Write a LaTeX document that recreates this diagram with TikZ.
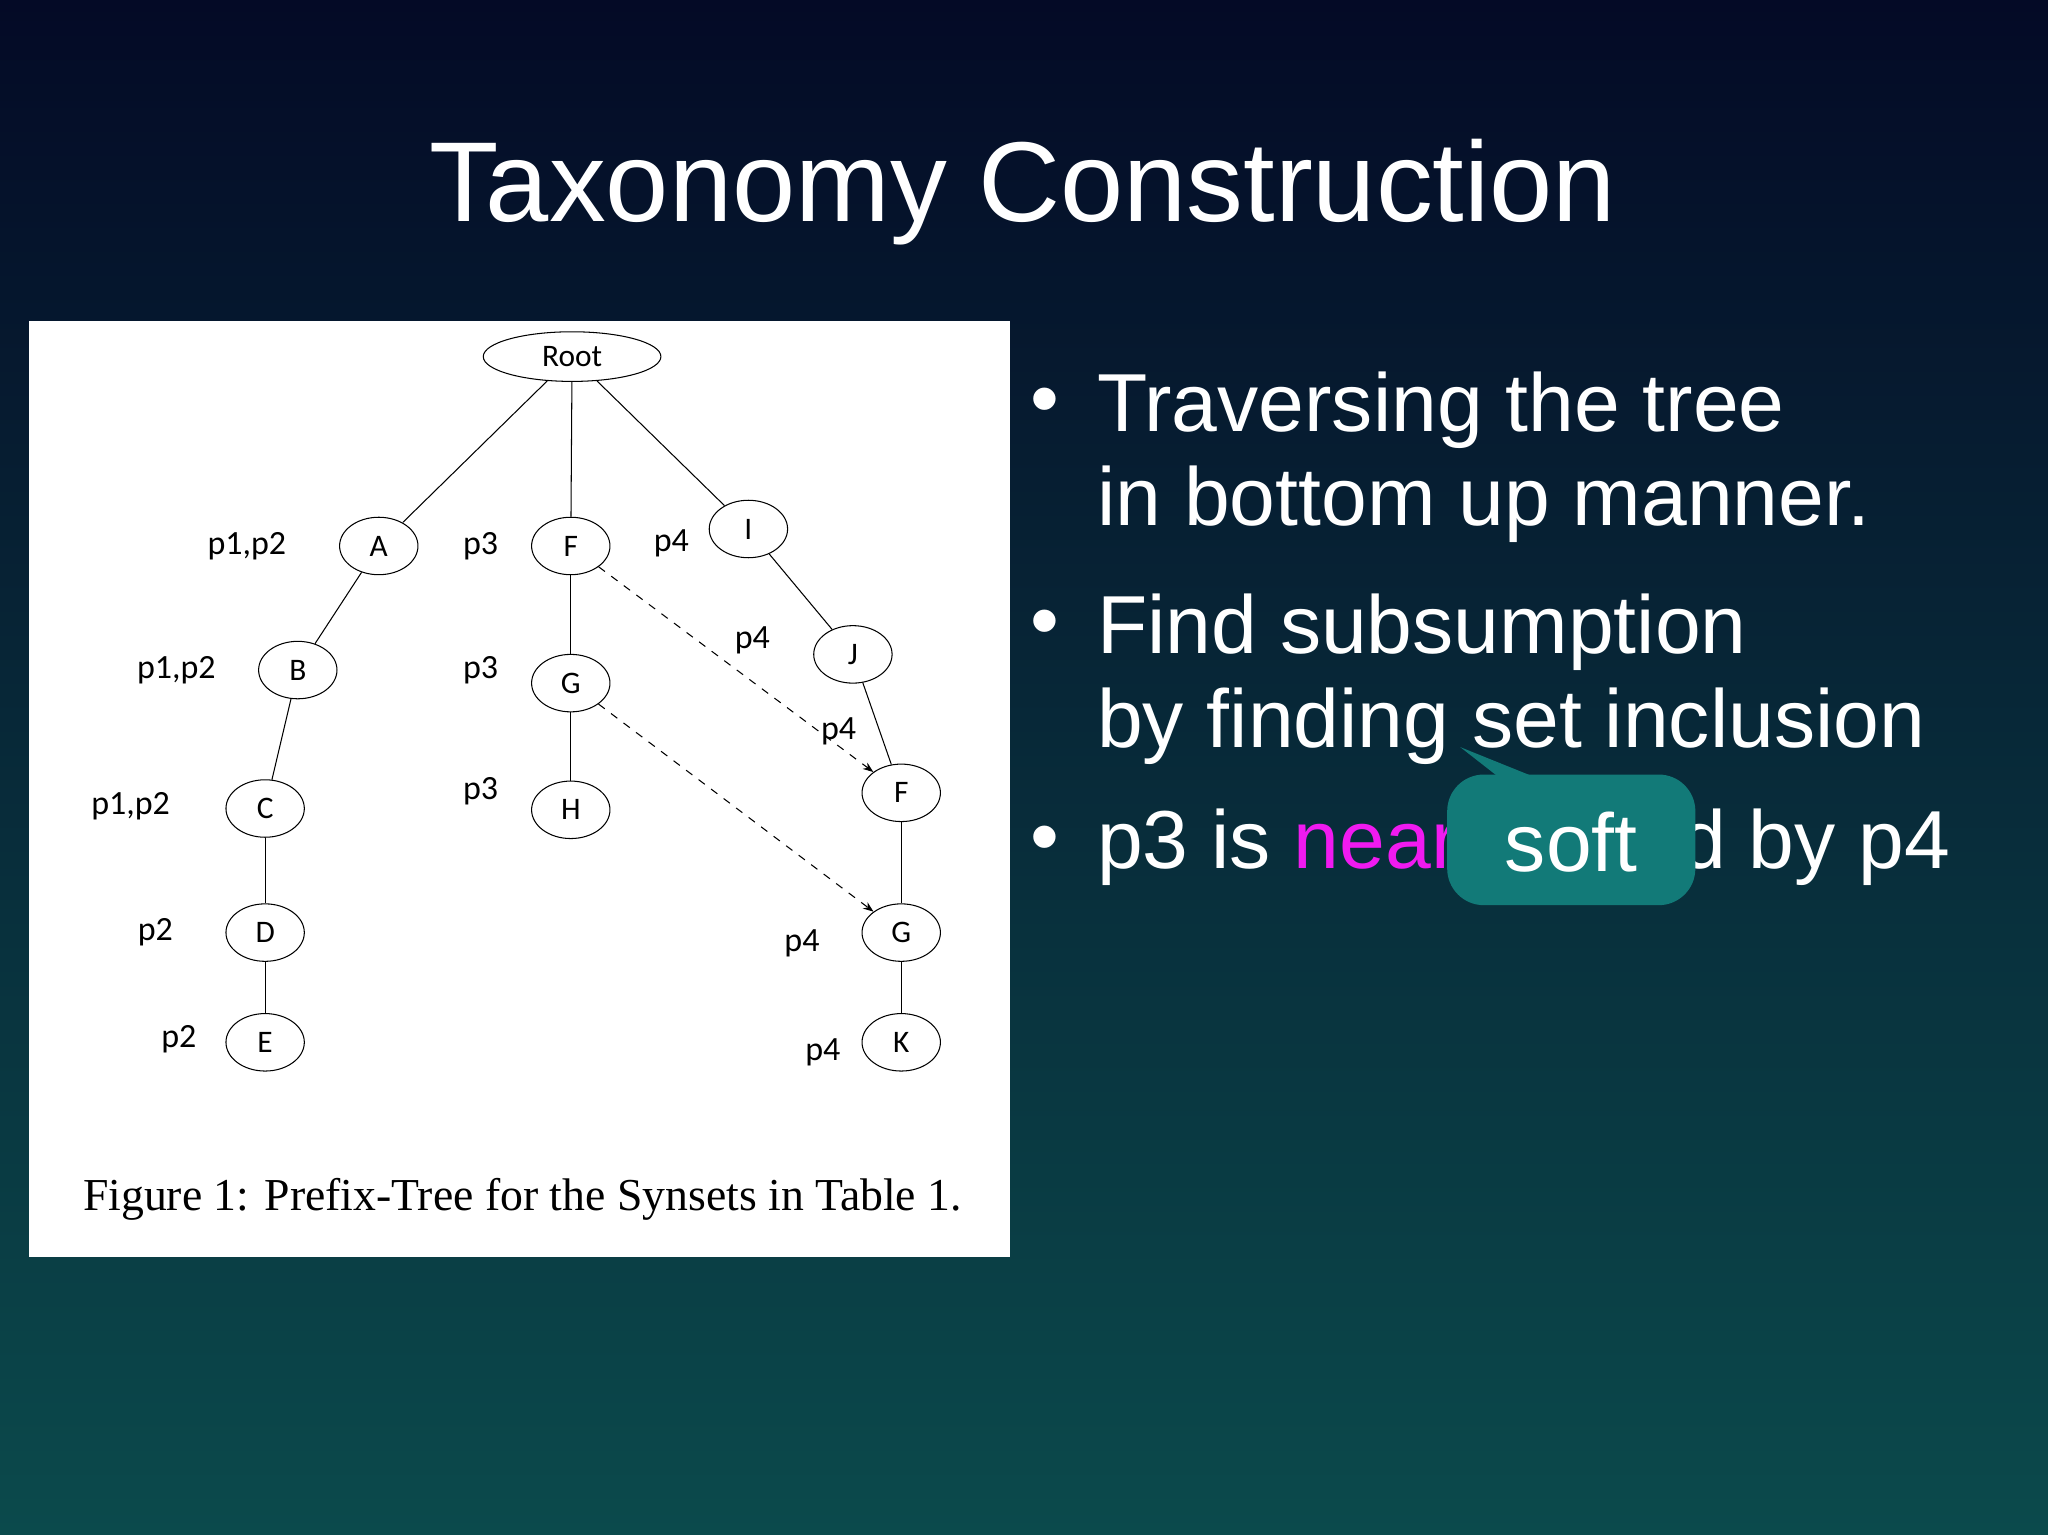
\documentclass[tikz,border=0pt]{standalone}
\usepackage{fontspec}
\setmainfont{Liberation Sans}
\newfontfamily\calib{Carlito}
\newfontfamily\serifc{Liberation Serif}
\usetikzlibrary{shapes.geometric,arrows.meta}
\definecolor{bgtop}{HTML}{040A26}
\definecolor{bgbot}{HTML}{0B4A4C}
\definecolor{callout}{HTML}{127A78}
\definecolor{mag}{HTML}{F01AF0}
\begin{document}
\begin{tikzpicture}[x=0.5pt,y=-0.5pt,
  nd/.style={ellipse,draw,thin,minimum width=30pt,minimum height=22pt,inner sep=0pt,font=\calib\fontsize{12}{12}\selectfont},
  lab/.style={font=\calib\fontsize{13}{13}\selectfont},
  edge/.style={draw,thin},
  dsh/.style={draw,dashed,thin,-{Stealth[length=4pt]}},
  bul/.style={text=white,anchor=base west,font=\fontsize{31.5}{31.5}\selectfont}]
\shade[top color=bgtop,bottom color=bgbot] (0,0) rectangle (1568,1175);
\useasboundingbox (0,0) rectangle (1568,1175);
\node[text=white,font=\fontsize{43.5}{43.5}\selectfont] (title) at (783,147) {Taxonomy Construction};
\fill[white] (22,246) rectangle (773,962);
\node[nd,minimum width=68pt,minimum height=19pt] (root) at (438,273) {Root};
\node[nd] (A) at (290,418) {A};
\node[nd] (F) at (437,418) {F};
\node[nd] (I) at (573,405) {I};
\node[nd] (B) at (228,513) {B};
\node[nd] (G) at (437,523) {G};
\node[nd] (J) at (653,501) {J};
\node[nd] (C) at (203,619) {C};
\node[nd] (H) at (437,620) {H};
\node[nd] (F2) at (690,607) {F};
\node[nd] (D) at (203,714) {D};
\node[nd] (G2) at (690,714) {G};
\node[nd] (E) at (203,798) {E};
\node[nd] (K) at (690,798) {K};
\draw[edge] (root) -- (A); \draw[edge] (root) -- (F); \draw[edge] (root) -- (I);
\draw[edge] (A) -- (B); \draw[edge] (B) -- (C); \draw[edge] (C) -- (D); \draw[edge] (D) -- (E);
\draw[edge] (F) -- (G); \draw[edge] (G) -- (H);
\draw[edge] (I) -- (J); \draw[edge] (J) -- (F2); \draw[edge] (F2) -- (G2); \draw[edge] (G2) -- (K);
\draw[dsh] (F) -- (F2); \draw[dsh] (G) -- (G2);
\node[lab] (l1) at (189,418) {p1,p2};
\node[lab] (l2) at (368,418) {p3};
\node[lab] (l3) at (514,416) {p4};
\node[lab] (l4) at (135,513) {p1,p2};
\node[lab] (l5) at (368,513) {p3};
\node[lab] (l6) at (576,490) {p4};
\node[lab] (l7) at (100,617) {p1,p2};
\node[lab] (l8) at (368,606) {p3};
\node[lab] (l9) at (642,560) {p4};
\node[lab] (l10) at (119,714) {p2};
\node[lab] (l11) at (614,722) {p4};
\node[lab] (l12) at (137,796) {p2};
\node[lab] (l13) at (630,806) {p4};
\node[font=\serifc\fontsize{17.5}{17.5}\selectfont] (cap) at (400,918) {Figure 1: Prefix-Tree for the Synsets in Table 1.};
\node[text=white,font=\fontsize{31.5}{31.5}\selectfont] (b1) at (800,312) {•};
\node[text=white,font=\fontsize{31.5}{31.5}\selectfont] (b2) at (800,482) {•};
\node[text=white,font=\fontsize{31.5}{31.5}\selectfont] (b3) at (800,647) {•};
\node[bul] (t1) at (833,330) {Traversing the tree};
\node[bul] (t2) at (833,402) {in bottom up manner.};
\node[bul] (t3) at (833,500) {Find subsumption};
\node[bul] (t4) at (833,572) {by finding set inclusion};
\node[bul] (t5) at (833,665) {p3 is \textcolor{mag}{nearly}};
\node[bul,anchor=base east] (t6) at (1500,665) {ed by p4};
\fill[callout,rounded corners=14pt] (1108,593) rectangle (1298,693);
\fill[callout] (1118,572) -- (1150,597) -- (1180,597) -- cycle;
\node[text=white,font=\fontsize{31.5}{31.5}\selectfont] (soft) at (1203,645) {soft};
\end{tikzpicture}
\end{document}
